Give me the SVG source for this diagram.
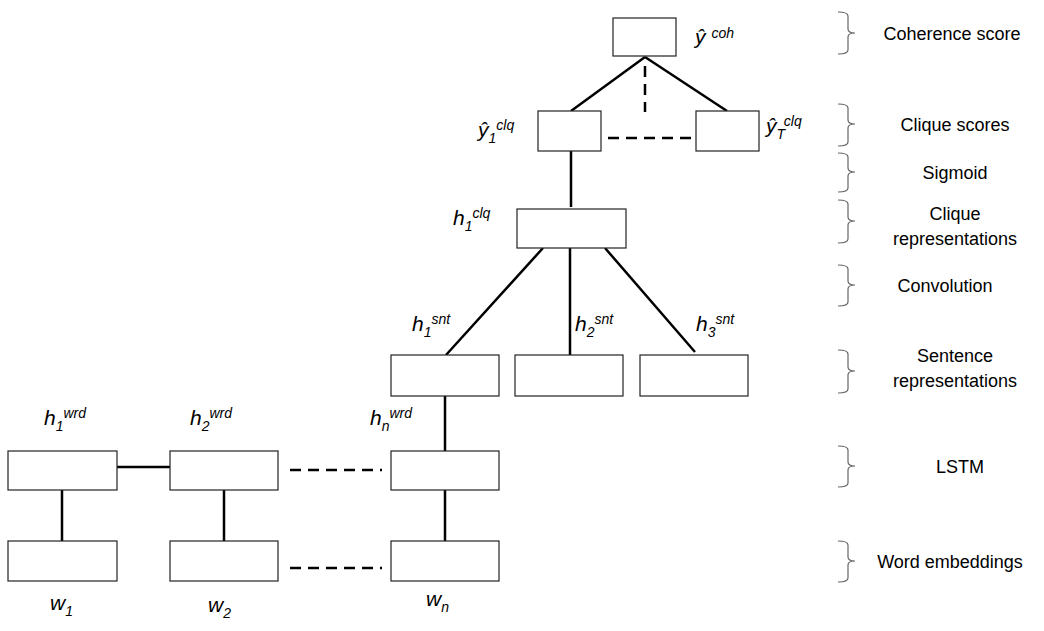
<svg xmlns="http://www.w3.org/2000/svg" width="1044" height="631" viewBox="0 0 1044 631">
<style>
.b{fill:#fff;stroke:#222;stroke-width:1.2}
.l{stroke:#000;stroke-width:2.5;fill:none}
.d{stroke:#000;stroke-width:2.5;fill:none;stroke-dasharray:11,7}
.br{stroke:#666;stroke-width:1.2;fill:none}
.v{font-family:"Liberation Sans",Arial,sans-serif;font-style:italic;font-size:21px;fill:#000}
.s{font-size:14px}
.t{font-family:"Liberation Sans",Arial,sans-serif;font-size:18px;fill:#000;text-anchor:middle}
</style>
<rect width="1044" height="631" fill="#fff"/>
<g id="connectors">
<path class="l" d="M645 57L571 111M645 57L727 111M571 151V207M543 248L446 355M570 248V355M605 248L695 352M445 396V451M117 467H170M62 490V541M224 490V541M445 490V541"/>
<path class="d" d="M645 66V112M608 138H692M290 470H382M290 568H382"/>
</g>
<g id="coh"><rect class="b" x="613" y="18" width="63" height="38"/><text class="v" x="695" y="44">ŷ<tspan class="s" dx="6" dy="-6">coh</tspan></text></g>
<g id="y1clq"><rect class="b" x="538" y="111" width="63" height="40"/><text class="v" x="478" y="137">ŷ<tspan class="s" dy="6">1</tspan><tspan class="s" dy="-13">clq</tspan></text></g>
<g id="yTclq"><rect class="b" x="696" y="111" width="63" height="40"/><text class="v" x="766" y="133">ŷ<tspan class="s" dy="6">T</tspan><tspan class="s" dy="-13">clq</tspan></text></g>
<g id="h1clq"><rect class="b" x="517" y="209" width="109" height="39"/><text class="v" x="453" y="225">h<tspan class="s" dy="6">1</tspan><tspan class="s" dy="-13">clq</tspan></text></g>
<g id="h1snt"><rect class="b" x="391" y="355" width="108" height="41"/><text class="v" x="412" y="331">h<tspan class="s" dy="6">1</tspan><tspan class="s" dy="-13">snt</tspan></text></g>
<g id="h2snt"><rect class="b" x="515" y="355" width="108" height="41"/><text class="v" x="575" y="331">h<tspan class="s" dy="6">2</tspan><tspan class="s" dy="-13">snt</tspan></text></g>
<g id="h3snt"><rect class="b" x="640" y="355" width="108" height="41"/><text class="v" x="696" y="331">h<tspan class="s" dy="6">3</tspan><tspan class="s" dy="-13">snt</tspan></text></g>
<g id="h1wrd"><rect class="b" x="8" y="451" width="109" height="39"/><text class="v" x="44" y="425">h<tspan class="s" dy="6">1</tspan><tspan class="s" dy="-13">wrd</tspan></text></g>
<g id="h2wrd"><rect class="b" x="170" y="451" width="108" height="39"/><text class="v" x="190" y="425">h<tspan class="s" dy="6">2</tspan><tspan class="s" dy="-13">wrd</tspan></text></g>
<g id="hnwrd"><rect class="b" x="391" y="451" width="108" height="39"/><text class="v" x="370" y="425">h<tspan class="s" dy="6">n</tspan><tspan class="s" dy="-13">wrd</tspan></text></g>
<g id="w1"><rect class="b" x="8" y="541" width="109" height="40"/><text class="v" x="50" y="610">w<tspan class="s" dy="6">1</tspan></text></g>
<g id="w2"><rect class="b" x="170" y="541" width="108" height="40"/><text class="v" x="208" y="612">w<tspan class="s" dy="6">2</tspan></text></g>
<g id="wn"><rect class="b" x="391" y="541" width="108" height="40"/><text class="v" x="426" y="606">w<tspan class="s" dy="6">n</tspan></text></g>
<g id="labels">
<path class="br" d="M838 12q10 0 10 4v13q0 4 7 4q-7 0-7 4v13q0 4-10 4"/>
<text class="t" x="952" y="40">Coherence score</text>
<path class="br" d="M838 104q10 0 10 4v12q0 4 7 4q-7 0-7 4v14q0 4-10 4"/>
<text class="t" x="955" y="131">Clique scores</text>
<path class="br" d="M838 153q10 0 10 4v11q0 4 7 4q-7 0-7 4v12q0 4-10 4"/>
<text class="t" x="955" y="179">Sigmoid</text>
<path class="br" d="M838 200q10 0 10 4v13q0 4 7 4q-7 0-7 4v14q0 4-10 4"/>
<text class="t" x="955" y="220">Clique</text>
<text class="t" x="955" y="245">representations</text>
<path class="br" d="M838 265q10 0 10 4v12q0 4 7 4q-7 0-7 4v13q0 4-10 4"/>
<text class="t" x="945" y="292">Convolution</text>
<path class="br" d="M838 350q10 0 10 4v13q0 4 7 4q-7 0-7 4v14q0 4-10 4"/>
<text class="t" x="955" y="362">Sentence</text>
<text class="t" x="955" y="387">representations</text>
<path class="br" d="M838 446q10 0 10 4v12q0 4 7 4q-7 0-7 4v13q0 4-10 4"/>
<text class="t" x="960" y="473">LSTM</text>
<path class="br" d="M838 541q10 0 10 4v12q0 4 7 4q-7 0-7 4v13q0 4-10 4"/>
<text class="t" x="950" y="568">Word embeddings</text>
</g>
</svg>
